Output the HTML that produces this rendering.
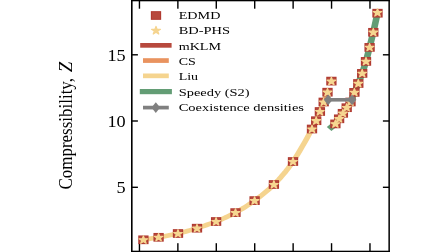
<!DOCTYPE html>
<html><head><meta charset="utf-8"><title>Compressibility</title>
<style>
html,body{margin:0;padding:0;background:#fff;}
body{width:448px;height:252px;overflow:hidden;}
svg{display:block;}
text{font-family:"Liberation Serif","DejaVu Serif",serif;fill:#000;}
</style></head><body>
<svg width="448" height="252" viewBox="0 0 448 252">
<rect x="0" y="0" width="448" height="252" fill="#ffffff"/>
<g fill="#000">
<rect x="138.75" y="0" width="1.4" height="8.7"/>
<rect x="138.75" y="243.2" width="1.4" height="8"/>
<rect x="177.17" y="0" width="1.4" height="8.7"/>
<rect x="177.17" y="243.2" width="1.4" height="8"/>
<rect x="215.59" y="0" width="1.4" height="8.7"/>
<rect x="215.59" y="243.2" width="1.4" height="8"/>
<rect x="254.01" y="0" width="1.4" height="8.7"/>
<rect x="254.01" y="243.2" width="1.4" height="8"/>
<rect x="292.43" y="0" width="1.4" height="8.7"/>
<rect x="292.43" y="243.2" width="1.4" height="8"/>
<rect x="330.85" y="0" width="1.4" height="8.7"/>
<rect x="330.85" y="243.2" width="1.4" height="8"/>
<rect x="369.27" y="0" width="1.4" height="8.7"/>
<rect x="369.27" y="243.2" width="1.4" height="8"/>
<rect x="131.5" y="54.10" width="6.4" height="1.4"/>
<rect x="382.9" y="54.10" width="6.3" height="1.4"/>
<rect x="131.5" y="120.30" width="6.4" height="1.4"/>
<rect x="382.9" y="120.30" width="6.3" height="1.4"/>
<rect x="131.5" y="186.60" width="6.4" height="1.4"/>
<rect x="382.9" y="186.60" width="6.3" height="1.4"/>
</g>
<g transform="scale(1.18,1)"><polyline points="121.53,239.80 123.14,239.48 124.75,239.17 126.36,238.86 127.97,238.55 129.58,238.24 131.19,237.93 132.80,237.62 134.41,237.30 136.46,236.89 138.52,236.46 140.57,236.02 142.63,235.56 144.68,235.08 146.74,234.58 148.79,234.06 150.85,233.50 152.86,232.93 154.87,232.32 156.89,231.69 158.90,231.04 160.91,230.36 162.92,229.66 164.94,228.94 166.95,228.20 168.97,227.44 171.00,226.66 173.02,225.86 175.04,225.04 177.07,224.19 179.09,223.32 181.11,222.43 183.14,221.50 185.19,220.53 187.25,219.52 189.30,218.48 191.36,217.40 193.41,216.27 195.47,215.10 197.52,213.88 199.58,212.60 201.60,211.29 203.62,209.92 205.65,208.50 207.67,207.03 209.69,205.50 211.72,203.92 213.74,202.29 215.76,200.60 217.81,198.84 219.85,197.02 221.90,195.14 223.94,193.18 225.99,191.14 228.03,189.02 230.07,186.81 232.12,184.50 234.14,182.11 236.17,179.61 238.19,176.98 240.21,174.21 242.24,171.29 244.26,168.20 246.28,164.95 248.31,161.50 250.32,157.88 252.33,154.09 254.34,150.14 256.36,146.07 258.37,141.90 260.38,137.65 262.39,133.34 264.41,129.00 264.85,128.04 265.30,127.07 265.74,126.08 266.19,125.08 266.63,124.04 267.08,122.97 267.52,121.86 267.97,120.70 268.36,119.63 268.75,118.53 269.14,117.39 269.53,116.23 269.93,115.06 270.32,113.87 270.71,112.68 271.10,111.50 271.50,110.29 271.91,109.10 272.31,107.91 272.71,106.72 273.11,105.54 273.52,104.36 273.92,103.18 274.32,102.00 274.72,100.81 275.13,99.62 275.53,98.42 275.93,97.20 276.33,95.98 276.74,94.73 277.14,93.48 277.54,92.20" fill="none" stroke="#f5d48f" stroke-width="4.7" stroke-linecap="butt" stroke-linejoin="round"/></g>
<g transform="scale(1.18,1)"><polyline points="280.93,127.10 284.24,123.90 287.37,118.80 290.59,113.30 293.81,107.70 297.03,102.00 300.34,92.40 303.64,83.50 306.95,73.40 310.17,61.40 313.22,47.40 316.36,32.30 319.92,13.20" fill="none" stroke="#639d75" stroke-width="5.6" stroke-linecap="square" stroke-linejoin="round"/></g>
<rect x="138.25" y="235.45" width="10.3" height="8.7" fill="#b03a30"/><rect x="139.35" y="236.40" width="8.100000000000001" height="6.799999999999999" fill="#b7493d"/>
<rect x="153.45" y="232.95" width="10.3" height="8.7" fill="#b03a30"/><rect x="154.55" y="233.90" width="8.100000000000001" height="6.799999999999999" fill="#b7493d"/>
<rect x="172.85" y="229.15" width="10.3" height="8.7" fill="#b03a30"/><rect x="173.95" y="230.10" width="8.100000000000001" height="6.799999999999999" fill="#b7493d"/>
<rect x="191.85" y="223.85" width="10.3" height="8.7" fill="#b03a30"/><rect x="192.95" y="224.80" width="8.100000000000001" height="6.799999999999999" fill="#b7493d"/>
<rect x="210.95" y="217.15" width="10.3" height="8.7" fill="#b03a30"/><rect x="212.05" y="218.10" width="8.100000000000001" height="6.799999999999999" fill="#b7493d"/>
<rect x="230.35" y="208.25" width="10.3" height="8.7" fill="#b03a30"/><rect x="231.45" y="209.20" width="8.100000000000001" height="6.799999999999999" fill="#b7493d"/>
<rect x="249.45" y="196.25" width="10.3" height="8.7" fill="#b03a30"/><rect x="250.55" y="197.20" width="8.100000000000001" height="6.799999999999999" fill="#b7493d"/>
<rect x="268.75" y="180.15" width="10.3" height="8.7" fill="#b03a30"/><rect x="269.85" y="181.10" width="8.100000000000001" height="6.799999999999999" fill="#b7493d"/>
<rect x="287.85" y="157.15" width="10.3" height="8.7" fill="#b03a30"/><rect x="288.95" y="158.10" width="8.100000000000001" height="6.799999999999999" fill="#b7493d"/>
<rect x="306.85" y="124.65" width="10.3" height="8.7" fill="#b03a30"/><rect x="307.95" y="125.60" width="8.100000000000001" height="6.799999999999999" fill="#b7493d"/>
<rect x="311.05" y="116.35" width="10.3" height="8.7" fill="#b03a30"/><rect x="312.15" y="117.30" width="8.100000000000001" height="6.799999999999999" fill="#b7493d"/>
<rect x="314.75" y="107.15" width="10.3" height="8.7" fill="#b03a30"/><rect x="315.85" y="108.10" width="8.100000000000001" height="6.799999999999999" fill="#b7493d"/>
<rect x="318.55" y="97.65" width="10.3" height="8.7" fill="#b03a30"/><rect x="319.65" y="98.60" width="8.100000000000001" height="6.799999999999999" fill="#b7493d"/>
<rect x="322.35" y="87.85" width="10.3" height="8.7" fill="#b03a30"/><rect x="323.45" y="88.80" width="8.100000000000001" height="6.799999999999999" fill="#b7493d"/>
<rect x="326.25" y="76.75" width="10.3" height="8.7" fill="#b03a30"/><rect x="327.35" y="77.70" width="8.100000000000001" height="6.799999999999999" fill="#b7493d"/>
<rect x="330.25" y="119.55" width="10.3" height="8.7" fill="#b03a30"/><rect x="331.35" y="120.50" width="8.100000000000001" height="6.799999999999999" fill="#b7493d"/>
<rect x="333.95" y="114.45" width="10.3" height="8.7" fill="#b03a30"/><rect x="335.05" y="115.40" width="8.100000000000001" height="6.799999999999999" fill="#b7493d"/>
<rect x="337.75" y="108.95" width="10.3" height="8.7" fill="#b03a30"/><rect x="338.85" y="109.90" width="8.100000000000001" height="6.799999999999999" fill="#b7493d"/>
<rect x="341.55" y="103.35" width="10.3" height="8.7" fill="#b03a30"/><rect x="342.65" y="104.30" width="8.100000000000001" height="6.799999999999999" fill="#b7493d"/>
<rect x="345.35" y="97.65" width="10.3" height="8.7" fill="#b03a30"/><rect x="346.45" y="98.60" width="8.100000000000001" height="6.799999999999999" fill="#b7493d"/>
<rect x="349.25" y="88.05" width="10.3" height="8.7" fill="#b03a30"/><rect x="350.35" y="89.00" width="8.100000000000001" height="6.799999999999999" fill="#b7493d"/>
<rect x="353.15" y="79.15" width="10.3" height="8.7" fill="#b03a30"/><rect x="354.25" y="80.10" width="8.100000000000001" height="6.799999999999999" fill="#b7493d"/>
<rect x="357.05" y="69.05" width="10.3" height="8.7" fill="#b03a30"/><rect x="358.15" y="70.00" width="8.100000000000001" height="6.799999999999999" fill="#b7493d"/>
<rect x="360.85" y="57.05" width="10.3" height="8.7" fill="#b03a30"/><rect x="361.95" y="58.00" width="8.100000000000001" height="6.799999999999999" fill="#b7493d"/>
<rect x="364.45" y="43.05" width="10.3" height="8.7" fill="#b03a30"/><rect x="365.55" y="44.00" width="8.100000000000001" height="6.799999999999999" fill="#b7493d"/>
<rect x="368.15" y="27.95" width="10.3" height="8.7" fill="#b03a30"/><rect x="369.25" y="28.90" width="8.100000000000001" height="6.799999999999999" fill="#b7493d"/>
<rect x="372.35" y="8.85" width="10.3" height="8.7" fill="#b03a30"/><rect x="373.45" y="9.80" width="8.100000000000001" height="6.799999999999999" fill="#b7493d"/>
<polygon points="143.40,236.00 142.38,238.80 139.07,238.80 141.75,240.53 140.73,243.33 143.40,241.60 146.07,243.33 145.05,240.53 147.73,238.80 144.42,238.80" fill="#f6d791" stroke="#f6d791" stroke-width="1.25" stroke-linejoin="round"/>
<polygon points="158.60,233.50 157.58,236.30 154.27,236.30 156.95,238.03 155.93,240.83 158.60,239.10 161.27,240.83 160.25,238.03 162.93,236.30 159.62,236.30" fill="#f6d791" stroke="#f6d791" stroke-width="1.25" stroke-linejoin="round"/>
<polygon points="178.00,229.70 176.98,232.50 173.67,232.50 176.35,234.23 175.33,237.03 178.00,235.30 180.67,237.03 179.65,234.23 182.33,232.50 179.02,232.50" fill="#f6d791" stroke="#f6d791" stroke-width="1.25" stroke-linejoin="round"/>
<polygon points="197.00,224.40 195.98,227.20 192.67,227.20 195.35,228.93 194.33,231.73 197.00,230.00 199.67,231.73 198.65,228.93 201.33,227.20 198.02,227.20" fill="#f6d791" stroke="#f6d791" stroke-width="1.25" stroke-linejoin="round"/>
<polygon points="216.10,217.70 215.08,220.50 211.77,220.50 214.45,222.23 213.43,225.03 216.10,223.30 218.77,225.03 217.75,222.23 220.43,220.50 217.12,220.50" fill="#f6d791" stroke="#f6d791" stroke-width="1.25" stroke-linejoin="round"/>
<polygon points="235.50,208.80 234.48,211.60 231.17,211.60 233.85,213.33 232.83,216.13 235.50,214.40 238.17,216.13 237.15,213.33 239.83,211.60 236.52,211.60" fill="#f6d791" stroke="#f6d791" stroke-width="1.25" stroke-linejoin="round"/>
<polygon points="254.60,196.80 253.58,199.60 250.27,199.60 252.95,201.33 251.93,204.13 254.60,202.40 257.27,204.13 256.25,201.33 258.93,199.60 255.62,199.60" fill="#f6d791" stroke="#f6d791" stroke-width="1.25" stroke-linejoin="round"/>
<polygon points="273.90,180.70 272.88,183.50 269.57,183.50 272.25,185.23 271.23,188.03 273.90,186.30 276.57,188.03 275.55,185.23 278.23,183.50 274.92,183.50" fill="#f6d791" stroke="#f6d791" stroke-width="1.25" stroke-linejoin="round"/>
<polygon points="293.00,157.70 291.98,160.50 288.67,160.50 291.35,162.23 290.33,165.03 293.00,163.30 295.67,165.03 294.65,162.23 297.33,160.50 294.02,160.50" fill="#f6d791" stroke="#f6d791" stroke-width="1.25" stroke-linejoin="round"/>
<polygon points="312.00,125.20 310.98,128.00 307.67,128.00 310.35,129.73 309.33,132.53 312.00,130.80 314.67,132.53 313.65,129.73 316.33,128.00 313.02,128.00" fill="#f6d791" stroke="#f6d791" stroke-width="1.25" stroke-linejoin="round"/>
<polygon points="316.20,116.90 315.18,119.70 311.87,119.70 314.55,121.43 313.53,124.23 316.20,122.50 318.87,124.23 317.85,121.43 320.53,119.70 317.22,119.70" fill="#f6d791" stroke="#f6d791" stroke-width="1.25" stroke-linejoin="round"/>
<polygon points="319.90,107.70 318.88,110.50 315.57,110.50 318.25,112.23 317.23,115.03 319.90,113.30 322.57,115.03 321.55,112.23 324.23,110.50 320.92,110.50" fill="#f6d791" stroke="#f6d791" stroke-width="1.25" stroke-linejoin="round"/>
<polygon points="323.70,98.20 322.68,101.00 319.37,101.00 322.05,102.73 321.03,105.53 323.70,103.80 326.37,105.53 325.35,102.73 328.03,101.00 324.72,101.00" fill="#f6d791" stroke="#f6d791" stroke-width="1.25" stroke-linejoin="round"/>
<polygon points="327.50,88.40 326.48,91.20 323.17,91.20 325.85,92.93 324.83,95.73 327.50,94.00 330.17,95.73 329.15,92.93 331.83,91.20 328.52,91.20" fill="#f6d791" stroke="#f6d791" stroke-width="1.25" stroke-linejoin="round"/>
<polygon points="331.40,77.30 330.38,80.10 327.07,80.10 329.75,81.83 328.73,84.63 331.40,82.90 334.07,84.63 333.05,81.83 335.73,80.10 332.42,80.10" fill="#f6d791" stroke="#f6d791" stroke-width="1.25" stroke-linejoin="round"/>
<polygon points="335.40,119.95 334.38,122.75 331.07,122.75 333.75,124.48 332.73,127.28 335.40,125.55 338.07,127.28 337.05,124.48 339.73,122.75 336.42,122.75" fill="#f6d791" stroke="#f6d791" stroke-width="1.25" stroke-linejoin="round"/>
<polygon points="339.10,114.85 338.08,117.65 334.77,117.65 337.45,119.38 336.43,122.18 339.10,120.45 341.77,122.18 340.75,119.38 343.43,117.65 340.12,117.65" fill="#f6d791" stroke="#f6d791" stroke-width="1.25" stroke-linejoin="round"/>
<polygon points="342.90,109.35 341.88,112.15 338.57,112.15 341.25,113.88 340.23,116.68 342.90,114.95 345.57,116.68 344.55,113.88 347.23,112.15 343.92,112.15" fill="#f6d791" stroke="#f6d791" stroke-width="1.25" stroke-linejoin="round"/>
<polygon points="346.70,103.75 345.68,106.55 342.37,106.55 345.05,108.28 344.03,111.08 346.70,109.35 349.37,111.08 348.35,108.28 351.03,106.55 347.72,106.55" fill="#f6d791" stroke="#f6d791" stroke-width="1.25" stroke-linejoin="round"/>
<polygon points="350.50,98.05 349.48,100.85 346.17,100.85 348.85,102.58 347.83,105.38 350.50,103.65 353.17,105.38 352.15,102.58 354.83,100.85 351.52,100.85" fill="#f6d791" stroke="#f6d791" stroke-width="1.25" stroke-linejoin="round"/>
<polygon points="354.40,88.45 353.38,91.25 350.07,91.25 352.75,92.98 351.73,95.78 354.40,94.05 357.07,95.78 356.05,92.98 358.73,91.25 355.42,91.25" fill="#f6d791" stroke="#f6d791" stroke-width="1.25" stroke-linejoin="round"/>
<polygon points="358.30,79.55 357.28,82.35 353.97,82.35 356.65,84.08 355.63,86.88 358.30,85.15 360.97,86.88 359.95,84.08 362.63,82.35 359.32,82.35" fill="#f6d791" stroke="#f6d791" stroke-width="1.25" stroke-linejoin="round"/>
<polygon points="362.20,69.45 361.18,72.25 357.87,72.25 360.55,73.98 359.53,76.78 362.20,75.05 364.87,76.78 363.85,73.98 366.53,72.25 363.22,72.25" fill="#f6d791" stroke="#f6d791" stroke-width="1.25" stroke-linejoin="round"/>
<polygon points="366.00,57.45 364.98,60.25 361.67,60.25 364.35,61.98 363.33,64.78 366.00,63.05 368.67,64.78 367.65,61.98 370.33,60.25 367.02,60.25" fill="#f6d791" stroke="#f6d791" stroke-width="1.25" stroke-linejoin="round"/>
<polygon points="369.60,43.45 368.58,46.25 365.27,46.25 367.95,47.98 366.93,50.78 369.60,49.05 372.27,50.78 371.25,47.98 373.93,46.25 370.62,46.25" fill="#f6d791" stroke="#f6d791" stroke-width="1.25" stroke-linejoin="round"/>
<polygon points="373.30,28.35 372.28,31.15 368.97,31.15 371.65,32.88 370.63,35.68 373.30,33.95 375.97,35.68 374.95,32.88 377.63,31.15 374.32,31.15" fill="#f6d791" stroke="#f6d791" stroke-width="1.25" stroke-linejoin="round"/>
<polygon points="377.50,8.75 376.48,11.55 373.17,11.55 375.85,13.28 374.83,16.08 377.50,14.35 380.17,16.08 379.15,13.28 381.83,11.55 378.52,11.55" fill="#f6d791" stroke="#f6d791" stroke-width="1.25" stroke-linejoin="round"/>
<line x1="328.2" y1="99.8" x2="352" y2="99.8" stroke="#808080" stroke-width="3.6"/>
<polygon points="328.2,94.39999999999999 332.59999999999997,99.8 328.2,105.2 323.8,99.8" fill="#808080"/>
<polygon points="352,94.39999999999999 356.4,99.8 352,105.2 347.6,99.8" fill="#808080"/>
<g fill="#000">
<rect x="131.0" y="0" width="1.6" height="252"/>
<rect x="388.4" y="0" width="1.5" height="252"/>
<rect x="131.0" y="0" width="258.9" height="1.3"/>
<rect x="131.0" y="250.7" width="258.9" height="1.3"/>
</g>
<text transform="translate(125.7,60.7) scale(1.14,1)" font-size="16" text-anchor="end">15</text>
<text transform="translate(125.7,126.9) scale(1.14,1)" font-size="16" text-anchor="end">10</text>
<text transform="translate(125.7,193.2) scale(1.14,1)" font-size="16" text-anchor="end">5</text>
<text transform="translate(71.5,189.6) rotate(-90) scale(1,1.17)" font-size="16.3" textLength="111.6" lengthAdjust="spacingAndGlyphs">Compressibility,</text>
<text transform="translate(71.5,72.3) rotate(-90) scale(1.15,1.17)" font-size="16.3" font-style="italic">Z</text>
<rect x="150.85" y="11.15" width="10.3" height="8.7" fill="#b03a30"/><rect x="151.95" y="12.10" width="8.100000000000001" height="6.799999999999999" fill="#b7493d"/>
<polygon points="156.00,26.40 154.94,29.30 151.53,29.30 154.29,31.10 153.24,34.00 156.00,32.20 158.76,34.00 157.71,31.10 160.47,29.30 157.06,29.30" fill="#f5d48f" stroke="#f5d48f" stroke-width="1.25" stroke-linejoin="round"/>
<rect x="140.2" y="43.00" width="31.40" height="4.7" fill="#b7493d"/>
<rect x="143" y="58.20" width="25.80" height="4.7" fill="#e9935f"/>
<rect x="143" y="73.50" width="25.80" height="4.7" fill="#f5d48f"/>
<rect x="139.8" y="89.00" width="32.10" height="5.2" fill="#639d75"/>
<rect x="143" y="105.75" width="25.80" height="3.7" fill="#808080"/>
<polygon points="155.8,102.19999999999999 160.10000000000002,107.6 155.8,113.0 151.5,107.6" fill="#808080"/>
<text x="178.7" y="19.0" font-size="11.1" textLength="41.699999999999996" lengthAdjust="spacingAndGlyphs">EDMD</text>
<text x="178.7" y="34.3" font-size="11.1" textLength="51.4" lengthAdjust="spacingAndGlyphs">BD-PHS</text>
<text x="178.7" y="49.6" font-size="11.1" textLength="42.3" lengthAdjust="spacingAndGlyphs">mKLM</text>
<text x="178.7" y="64.9" font-size="11.1" textLength="17.099999999999998" lengthAdjust="spacingAndGlyphs">CS</text>
<text x="178.7" y="80.2" font-size="11.1" textLength="19.4" lengthAdjust="spacingAndGlyphs">Liu</text>
<text x="178.7" y="95.5" font-size="11.1" textLength="70.9" lengthAdjust="spacingAndGlyphs">Speedy (S2)</text>
<text x="178.7" y="110.8" font-size="11.1" textLength="125.30000000000001" lengthAdjust="spacingAndGlyphs">Coexistence densities</text>
</svg></body></html>
